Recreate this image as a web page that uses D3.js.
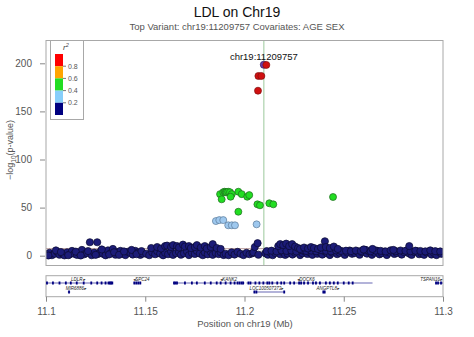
<!DOCTYPE html>
<html><head><meta charset="utf-8">
<script src="https://cdn.jsdelivr.net/npm/d3@7"></script>
<style>body{margin:0;background:#fff;} svg{display:block;font-family:"Liberation Sans",Arial,sans-serif;}</style>
</head><body>
<script>
// ---- data ----
const titleText = "LDL on Chr19";
const subtitleText = "Top Variant: chr19:11209757 Covariates: AGE SEX";
const xTicks = [11.1, 11.15, 11.2, 11.25, 11.3];
const yTicks = [0, 50, 100, 150, 200];
const legendBreaks = [0.8, 0.6, 0.4, 0.2];
const legendColors = ["#FF0000", "#FFA500", "#22DD22", "#87CEFA", "#000080"];
const topPos = 11.209757, topLogP = 198.5;

const navyPos = [
 11.1005,11.1018,11.1030,11.1043,11.1056,11.1068,11.1080,11.1093,11.1106,11.1118,11.1131,11.1143,11.1156,11.1168,11.1181,11.1193,11.1206,11.1221,11.1230,11.1243,11.1258,11.1262,11.1275,11.1287,11.1300,11.1312,11.1325,11.1337,11.1350,11.1362,11.1375,11.1387,11.1400,11.1412,11.1425,11.1437,11.1450,11.1462,11.1475,11.1487,
 11.1012,11.1050,11.1075,11.1112,11.1150,11.1175,11.1212,11.1250,11.1281,11.1318,11.1343,11.1368,11.1393,11.1431,11.1456,11.1481,
 11.1505,11.1520,11.1535,11.1550,11.1560,11.1575,11.1590,11.1600,11.1615,11.1630,11.1640,11.1655,11.1670,11.1680,11.1695,11.1710,11.1720,11.1735,11.1750,11.1760,11.1775,11.1790,11.1800,11.1815,11.1830,11.1840,11.1855,11.1870,11.1880,11.1895,
 11.1530,11.1560,11.1580,11.1600,11.1610,11.1630,11.1640,11.1660,11.1670,11.1690,11.1700,11.1720,11.1730,11.1750,11.1760,11.1780,11.1800,11.1810,11.1830,11.1840,11.1860,11.1880,
 11.1905,11.1920,11.1935,11.1950,11.1965,11.1980,11.1995,11.2010,11.2025,11.2040,11.2045,11.2052,11.2066,11.2070,
 11.2105,11.2118,11.2130,11.2142,11.2155,11.2167,11.2180,11.2192,11.2205,11.2217,11.2230,11.2242,11.2255,11.2267,11.2280,11.2292,11.2305,11.2317,11.2330,11.2342,11.2355,11.2367,11.2380,11.2392,11.2405,11.2417,11.2430,11.2442,11.2455,11.2467,11.2480,11.2492,11.2505,11.2517,11.2530,11.2542,11.2555,11.2567,11.2580,11.2592,11.2605,11.2617,11.2630,11.2642,11.2655,11.2667,11.2680,11.2692,11.2705,11.2717,11.2730,11.2742,11.2755,11.2767,11.2780,11.2792,11.2805,11.2817,11.2830,11.2842,11.2855,11.2867,11.2880,11.2892,11.2905,11.2917,11.2930,11.2942,11.2955,11.2967,11.2980,11.2992,
 11.2112,11.2136,11.2161,11.2186,11.2211,11.2236,11.2261,11.2286,11.2311,11.2336,11.2361,11.2386,11.2411,11.2436,11.2461,11.2486,11.2511,11.2536,11.2561,11.2586,11.2611,11.2636,11.2661,11.2686,11.2711,11.2736,11.2761,11.2786,11.2811,11.2836,11.2861,11.2886,11.2911,11.2936,11.2961,11.2986,
 11.2170,11.2180,11.2195,11.2210,11.2225,11.2240,11.2255,11.2270,11.2280,11.2300,11.2320,11.2335,11.2350,11.2370,11.2385,11.2405,11.2410,11.2430,11.2450,11.2470,11.2600,11.2645,11.2750,11.2830
];
const navyLogP = [
 1.5,3.0,0.5,2.0,4.0,1.0,2.5,0.3,3.5,1.2,5.0,2.0,0.8,3.0,6.0,1.5,2.8,14.0,0.5,3.2,14.0,1.8,4.5,2.0,0.4,5.5,2.5,7.0,1.0,3.8,5.0,2.0,0.6,4.0,2.7,1.2,5.0,3.0,0.8,2.2,
 0.2,5.5,3.8,0.5,4.2,0.2,4.8,0.9,6.5,1.3,3.6,0.9,4.4,6.0,1.6,4.8,
 2.0,0.5,3.5,1.5,4.8,2.2,0.4,3.0,1.5,4.2,0.8,2.6,3.8,1.0,2.4,4.5,0.6,3.0,1.8,5.0,2.2,0.5,3.4,1.4,4.0,0.9,2.8,1.6,3.6,0.7,
 8.0,9.0,7.5,10.0,10.5,9.0,11.0,10.0,8.5,11.5,9.5,10.0,8.0,9.0,11.0,8.5,10.0,7.5,9.0,12.0,8.0,7.0,
 2.0,0.5,3.5,1.2,4.0,2.0,0.6,3.0,1.5,2.5,3.5,9.0,13.0,1.0,
 2.5,1.0,3.2,0.5,2.8,4.5,1.5,3.8,0.8,2.2,4.0,1.2,3.0,5.0,0.6,2.6,4.2,1.8,3.4,0.9,5.2,2.0,3.6,1.1,4.4,2.4,0.7,3.1,5.0,1.6,2.9,4.1,0.8,3.3,5.4,1.9,2.7,4.6,1.0,3.5,6.0,2.1,4.0,0.9,3.0,5.2,1.4,2.6,4.3,0.7,3.2,5.0,1.8,2.8,4.1,1.1,3.6,5.3,2.2,0.8,3.9,4.8,1.5,2.5,0.9,3.4,4.6,1.2,2.7,0.6,3.8,2.0,
 4.8,5.2,4.5,5.6,5.0,5.4,4.4,5.8,4.9,5.3,4.6,5.7,5.1,4.5,5.5,5.0,5.2,4.7,5.4,4.9,6.0,4.6,5.3,5.0,4.4,5.6,4.8,5.4,5.1,4.6,5.2,4.9,4.5,5.5,4.7,4.4,
 10.0,12.0,11.0,12.5,10.0,12.0,9.5,8.0,7.0,8.5,7.5,9.0,8.0,7.0,8.5,15.0,9.0,8.0,9.5,7.0,6.5,7.0,6.0,10.0
];
const bluePos  = [11.1856, 11.1873, 11.1893, 11.1918, 11.1936, 11.1952, 11.2061];
const blueLogP = [36, 37, 37, 31.6, 31.6, 31.6, 32.6];
const greenPos  = [11.1877, 11.1893, 11.1900, 11.1905, 11.1910, 11.1918, 11.1927, 11.1936, 11.1885, 11.1930, 11.1969, 11.1986, 11.2014, 11.2024, 11.2065, 11.2078, 11.2125, 11.2145, 11.1969, 11.2446];
const greenLogP = [64, 66, 66.5, 66, 66, 66.5, 66, 64, 58.6, 61.3, 66.5, 64, 61.3, 63, 53.4, 52.4, 54.5, 53.4, 45.7, 61];
const redPos  = [11.2070, 11.2085, 11.2068, 11.2110];
const redLogP = [186.8, 186.8, 171.5, 198.3];

const geneNames  = ["LDLR\u25B8", "MIR6886\u25B8", "\u25C2SPC24", "\u25C2KANK2", "\u25C2DOCK6", "LOC100507373\u25B8", "ANGPTL8\u25B8", "TSPAN16\u25B8"];
const geneStart  = [11.0890, 11.1110, 11.1440, 11.1640, 11.2010, 11.2045, 11.2395, 11.2960];
const geneEnd    = [11.1338, 11.1122, 11.1480, 11.2000, 11.2645, 11.2205, 11.2407, 11.3000];
const geneRow    = [0, 1, 0, 0, 0, 1, 1, 0];
const geneLabelX = [11.1160, 11.1150, 11.1480, 11.1920, 11.2310, 11.2110, 11.2420, 11.2940];
const geneExons  = [
 [11.1005,11.1035,11.1068,11.1100,11.1125,11.1155,11.1190,11.1228,11.1258,11.1280,11.1300,11.1315,11.1322,11.1328,11.1334],
 [11.1116],
 [11.1445,11.1455,11.1465,11.1475],
 [11.1645,11.1652,11.1660,11.1700,11.1735,11.1760,11.1800,11.1830,11.1860,11.1880,11.1905,11.1930,11.1950,11.1965,11.1975,11.1985,11.1993],
 [11.2020,11.2030,11.2055,11.2075,11.2095,11.2115,11.2125,11.2140,11.2165,11.2185,11.2200,11.2230,11.2250,11.2275,11.2285,11.2300,11.2320,11.2345,11.2360,11.2380,11.2410,11.2430,11.2450,11.2470,11.2500,11.2525,11.2545],
 [11.2050,11.2060,11.2200],
 [11.2397,11.2404],
 [11.2965,11.2975,11.2990]
];

// ---- layout ----
const W = 474, H = 337;
const L = 46, R = 443, T = 40.5, B = 265.5;
const gTop = 275.7, gBot = 296.7;
const svg = d3.select("body").append("svg").attr("width", W).attr("height", H);

const x = d3.scaleLinear().domain([11.1, 11.3]).range([L, R]);
const y = d3.scaleLinear().domain([0, 200]).range([255.7, 63.3]);

// titles
svg.append("text").attr("x", 237).attr("y", 17).attr("text-anchor", "middle")
  .attr("font-size", 14).attr("fill", "#111").text(titleText);
svg.append("text").attr("x", 237).attr("y", 30).attr("text-anchor", "middle")
  .attr("font-size", 9.5).attr("fill", "#555").text(subtitleText);

// clip for points
svg.append("clipPath").attr("id", "clip").append("rect")
  .attr("x", L).attr("y", T).attr("width", R - L).attr("height", B - T);
const plot = svg.append("g").attr("clip-path", "url(#clip)");

// significance lines
plot.append("line").attr("x1", L).attr("x2", R).attr("y1", y(7.3)).attr("y2", y(7.3))
  .attr("stroke", "#b89a9a").attr("stroke-width", 1);
plot.append("line").attr("x1", L).attr("x2", R).attr("y1", y(4.6)).attr("y2", y(4.6))
  .attr("stroke", "#a0a0a0").attr("stroke-width", 0.8);

// vertical line at top variant
plot.append("line").attr("x1", x(topPos)).attr("x2", x(topPos)).attr("y1", T).attr("y2", B)
  .attr("stroke", "#9cc89c").attr("stroke-width", 1);

function drawPts(pos, lp, col, stroke, r) {
  plot.append("g").selectAll("circle").data(pos.map((p, i) => [p, lp[i]])).join("circle")
    .attr("cx", d => x(d[0])).attr("cy", d => y(d[1])).attr("r", r)
    .attr("fill", col).attr("stroke", stroke).attr("stroke-width", 0.7);
}
drawPts(navyPos, navyLogP, "#1c1c78", "#0a0a30", 3.6);
drawPts(bluePos, blueLogP, "#9ec8ee", "#5a7a9a", 3.5);
drawPts(greenPos, greenLogP, "#22DD22", "#1f6a1f", 3.5);
// top variant (purple)
plot.append("circle").attr("cx", x(topPos)).attr("cy", y(topLogP)).attr("r", 3.6)
  .attr("fill", "#6a3aa8").attr("stroke", "#3a1a60").attr("stroke-width", 0.7);
drawPts(redPos, redLogP, "#d01010", "#801010", 3.5);

// top label
svg.append("text").attr("x", x(topPos)).attr("y", 60).attr("text-anchor", "middle")
  .attr("font-size", 9.5).attr("fill", "#111").text("chr19:11209757");

// frames
svg.append("rect").attr("x", L).attr("y", T).attr("width", R - L).attr("height", B - T)
  .attr("fill", "none").attr("stroke", "#a8a8a8").attr("stroke-width", 1);
svg.append("rect").attr("x", L).attr("y", gTop).attr("width", R - L).attr("height", gBot - gTop)
  .attr("fill", "none").attr("stroke", "#a8a8a8").attr("stroke-width", 1);

// y axis
const yAx = svg.append("g").attr("transform", `translate(${L - 6},0)`)
  .call(d3.axisLeft(y).tickValues(yTicks).tickSize(5).tickPadding(3));
yAx.select(".domain").remove();
yAx.selectAll("line").attr("stroke", "#888").attr("transform", "translate(5,0)");
yAx.selectAll("text").attr("font-size", 10).attr("fill", "#555")
  .attr("font-family", "Liberation Sans, Arial, sans-serif");

// y title
const yt = svg.append("text").attr("transform", "translate(13,150) rotate(-90)")
  .attr("text-anchor", "middle").attr("font-size", 9).attr("fill", "#555");
yt.append("tspan").text("\u2212log");
yt.append("tspan").attr("font-size", 6.5).attr("dy", 2.5).text("10");
yt.append("tspan").attr("dy", -2.5).text("(p-value)");

// x axis
const xAx = svg.append("g").attr("transform", `translate(0,${gBot})`)
  .call(d3.axisBottom(x).tickValues(xTicks).tickSize(5).tickPadding(6).tickFormat(d3.format("")));
xAx.select(".domain").remove();
xAx.selectAll("line").attr("stroke", "#888");
xAx.selectAll("text").attr("font-size", 10).attr("fill", "#555")
  .attr("font-family", "Liberation Sans, Arial, sans-serif");
svg.append("text").attr("x", 245).attr("y", 327).attr("text-anchor", "middle")
  .attr("font-size", 9.5).attr("fill", "#555").text("Position on chr19 (Mb)");

// legend
const lg = svg.append("g");
lg.append("rect").attr("x", 50.5).attr("y", 40.5).attr("width", 33).attr("height", 79)
  .attr("fill", "#fff").attr("stroke", "#a8a8a8");
const lt = lg.append("text").attr("x", 63).attr("y", 50).attr("font-size", 8).attr("fill", "#444").attr("font-style", "italic");
lt.append("tspan").text("r");
lt.append("tspan").attr("font-size", 5.5).attr("dy", -3).text("2");
const by = d3.scaleLinear().domain([1, 0]).range([54, 115]);
legendColors.forEach((c, i) => {
  lg.append("rect").attr("x", 55).attr("y", by(1 - i * 0.2)).attr("width", 8)
    .attr("height", by(0.8) - by(1)).attr("fill", c);
});
legendBreaks.forEach(v => {
  lg.append("line").attr("x1", 63).attr("x2", 66).attr("y1", by(v)).attr("y2", by(v)).attr("stroke", "#777");
  lg.append("text").attr("x", 68).attr("y", by(v) + 2.5).attr("font-size", 7).attr("fill", "#555").text(v);
});

// genes
const rowY = [283, 292];
const gg = svg.append("g");
gg.append("clipPath").attr("id", "gclip").append("rect")
  .attr("x", L).attr("y", gTop).attr("width", R - L).attr("height", gBot - gTop);
const gc = gg.append("g").attr("clip-path", "url(#gclip)");
geneNames.forEach((n, i) => {
  const yy = rowY[geneRow[i]];
  gc.append("line").attr("x1", x(geneStart[i])).attr("x2", x(geneEnd[i]))
    .attr("y1", yy).attr("y2", yy).attr("stroke", "#000080").attr("stroke-width", 0.6);
  geneExons[i].forEach(e => {
    gc.append("rect").attr("x", x(e) - 0.9).attr("y", yy - 1.5).attr("width", 1.8).attr("height", 3)
      .attr("fill", "#000080");
  });
  gc.append("text").attr("x", x(geneLabelX[i])).attr("y", yy - 2.5).attr("text-anchor", "middle")
    .attr("font-size", 4.5).attr("font-style", "italic").attr("fill", "#222").text(n);
});
</script>
</body></html>
